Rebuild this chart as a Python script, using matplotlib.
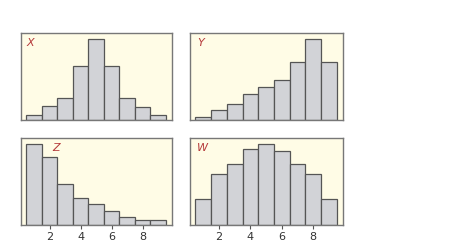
import numpy as np
import matplotlib.pyplot as plt

# bin centres shared by all four histograms
bins = [1, 2, 3, 4, 5, 6, 7, 8, 9]

x_counts = [1.0, 2.5, 4.0, 10.0, 15.0, 10.0, 4.0, 2.4, 0.9]
y_counts = [0.6, 1.8, 2.9, 4.7, 6.0, 7.3, 10.7, 15.0, 10.7]
z_counts = [14.9, 12.6, 7.5, 5.0, 3.9, 2.5, 1.5, 1.0, 1.0]
w_counts = [4.7, 9.3, 11.2, 14.0, 14.9, 13.6, 11.2, 9.3, 4.7]

tick_values = [2, 4, 6, 8]

panels = [
    # name, counts, [left, bottom, width, height], label x, show ticks
    ("X", x_counts, [0.0443, 0.518, 0.3186, 0.349], 0.06, False),
    ("Y", y_counts, [0.4008, 0.518, 0.3228, 0.349], 0.07, False),
    ("Z", z_counts, [0.0443, 0.0964, 0.3186, 0.349], 0.23, True),
    ("W", w_counts, [0.4008, 0.0964, 0.3228, 0.349], 0.08, True),
]

fig = plt.figure(figsize=(4.74, 2.49), dpi=100)
fig.patch.set_facecolor("white")

for name, counts, rect, lx, show_ticks in panels:
    ax = fig.add_axes(rect)
    ax.set_facecolor("#fffce6")
    ax.bar(bins, counts, width=1.0, color="#d2d3d7", edgecolor="#555555", linewidth=0.9)
    ax.set_xlim(0.15, 9.9)
    ax.set_ylim(0, 16)

    for s in ax.spines.values():
        s.set_color("#777777")
        s.set_linewidth(1.0)

    ax.set_yticks([])
    if show_ticks:
        ax.set_xticks(tick_values)
        ax.tick_params(axis="x", length=3, width=0.8, color="#555555",
                       labelsize=8, labelcolor="#333333", pad=2)
    else:
        ax.set_xticks([])

    ax.text(lx, 0.885, name, transform=ax.transAxes, color="#b5393a",
            fontsize=8, fontstyle="italic", ha="center", va="center")

plt.savefig("out.png", dpi=100)
